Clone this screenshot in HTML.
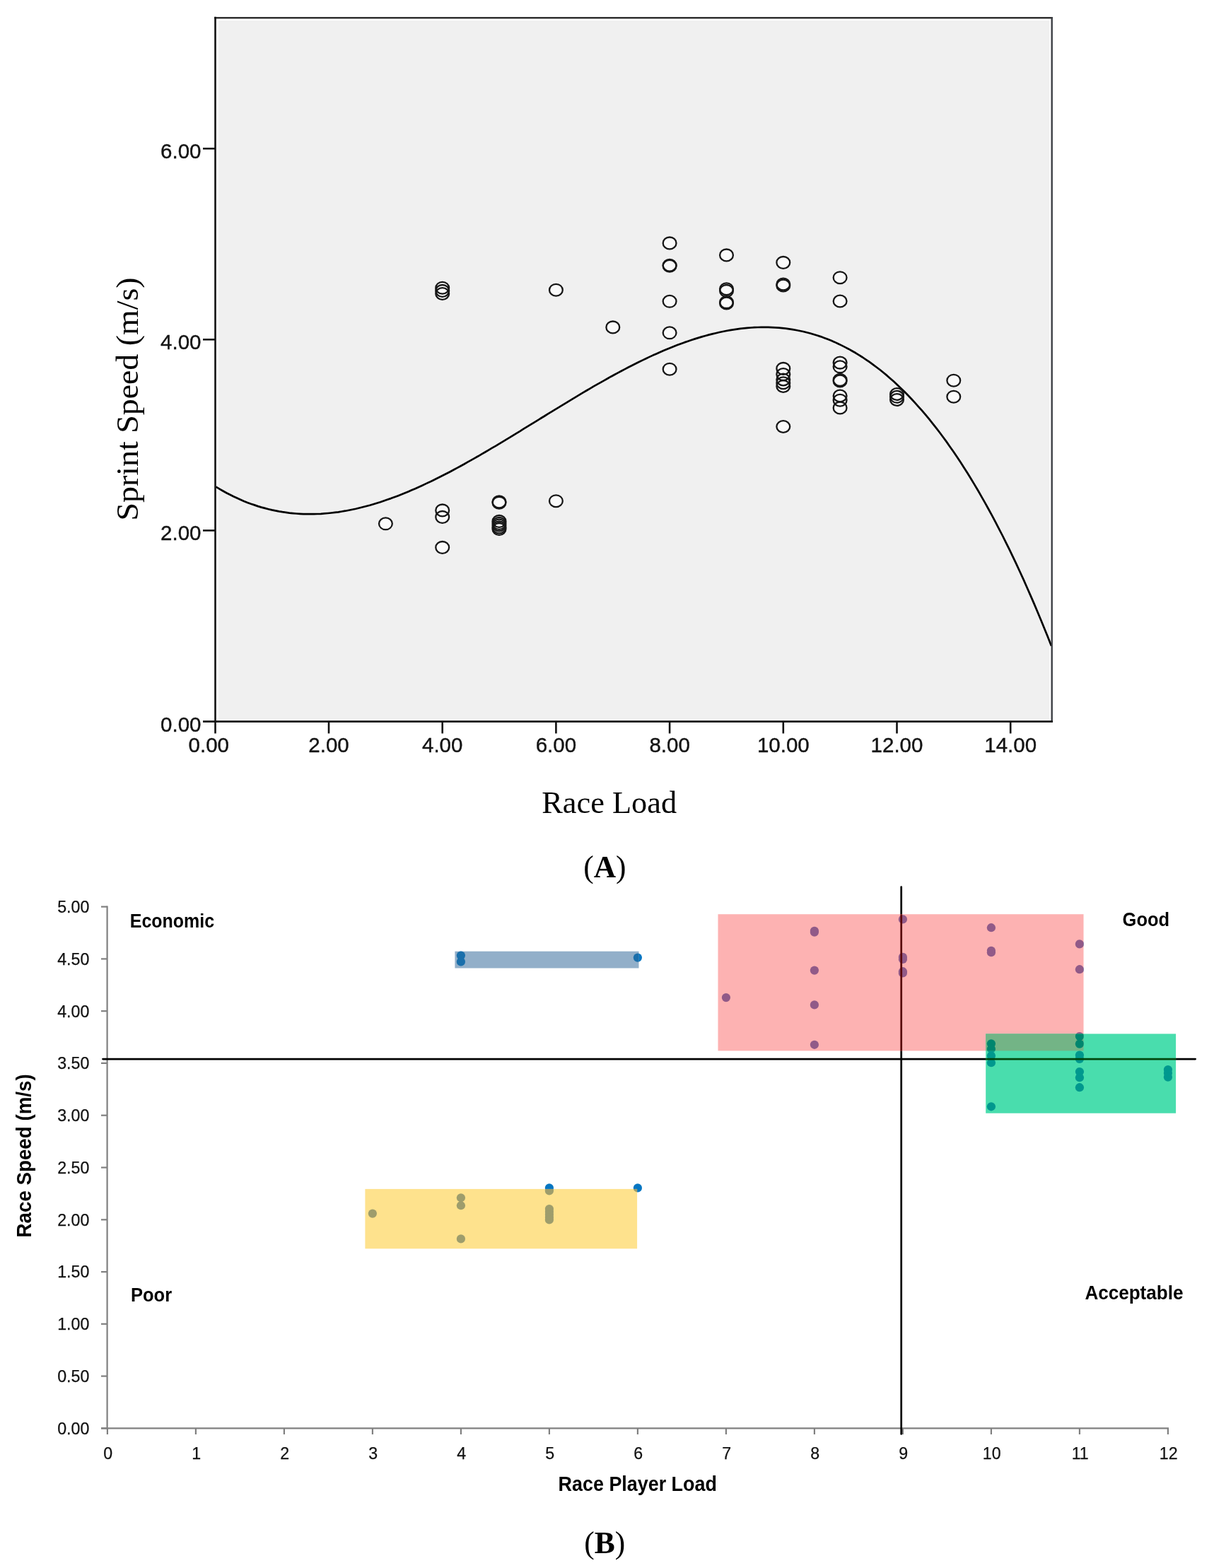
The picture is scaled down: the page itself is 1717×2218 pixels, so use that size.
<!DOCTYPE html>
<html><head><meta charset="utf-8"><title>Figure</title>
<style>
html,body{margin:0;padding:0;background:#fff;}
body{width:1717px;height:2218px;overflow:hidden;}
svg{display:block;}
</style></head>
<body>
<svg width="1717" height="2218" viewBox="0 0 1717 2218">
<rect width="1717" height="2218" fill="#fff"/>
<rect x="309" y="29" width="1175.5" height="988.5" fill="#f0f0f0"/>
<path d="M305.5,688.7 L310.4,691.6 L315.4,694.5 L320.3,697.2 L325.3,699.8 L330.2,702.3 L335.2,704.6 L340.1,706.8 L345.0,708.9 L350.0,710.9 L354.9,712.7 L359.9,714.4 L364.8,716.1 L369.8,717.6 L374.7,718.9 L379.7,720.2 L384.6,721.4 L389.5,722.4 L394.5,723.4 L399.4,724.2 L404.4,724.9 L409.3,725.6 L414.3,726.1 L419.2,726.5 L424.1,726.8 L429.1,727.1 L434.0,727.2 L439.0,727.2 L443.9,727.2 L448.9,727.0 L453.8,726.8 L458.7,726.4 L463.7,726.0 L468.6,725.5 L473.6,724.9 L478.5,724.3 L483.5,723.5 L488.4,722.7 L493.4,721.7 L498.3,720.7 L503.2,719.7 L508.2,718.5 L513.1,717.3 L518.1,716.0 L523.0,714.7 L528.0,713.2 L532.9,711.7 L537.8,710.2 L542.8,708.5 L547.7,706.8 L552.7,705.1 L557.6,703.3 L562.6,701.4 L567.5,699.5 L572.4,697.5 L577.4,695.4 L582.3,693.3 L587.3,691.2 L592.2,689.0 L597.2,686.7 L602.1,684.4 L607.1,682.1 L612.0,679.7 L616.9,677.3 L621.9,674.8 L626.8,672.3 L631.8,669.7 L636.7,667.2 L641.7,664.5 L646.6,661.9 L651.5,659.2 L656.5,656.5 L661.4,653.7 L666.4,650.9 L671.3,648.1 L676.3,645.3 L681.2,642.4 L686.2,639.5 L691.1,636.6 L696.0,633.7 L701.0,630.8 L705.9,627.8 L710.9,624.8 L715.8,621.9 L720.8,618.9 L725.7,615.8 L730.6,612.8 L735.6,609.8 L740.5,606.7 L745.5,603.7 L750.4,600.7 L755.4,597.6 L760.3,594.6 L765.2,591.5 L770.2,588.5 L775.1,585.4 L780.1,582.4 L785.0,579.3 L790.0,576.3 L794.9,573.3 L799.9,570.3 L804.8,567.3 L809.7,564.3 L814.7,561.3 L819.6,558.4 L824.6,555.4 L829.5,552.5 L834.5,549.6 L839.4,546.7 L844.3,543.9 L849.3,541.1 L854.2,538.3 L859.2,535.5 L864.1,532.7 L869.1,530.0 L874.0,527.4 L878.9,524.7 L883.9,522.1 L888.8,519.5 L893.8,517.0 L898.7,514.5 L903.7,512.0 L908.6,509.6 L913.6,507.2 L918.5,504.9 L923.4,502.6 L928.4,500.4 L933.3,498.2 L938.3,496.1 L943.2,494.0 L948.2,492.0 L953.1,490.0 L958.0,488.1 L963.0,486.2 L967.9,484.4 L972.9,482.7 L977.8,481.0 L982.8,479.4 L987.7,477.9 L992.6,476.4 L997.6,475.0 L1002.5,473.6 L1007.5,472.4 L1012.4,471.2 L1017.4,470.0 L1022.3,469.0 L1027.3,468.0 L1032.2,467.1 L1037.1,466.3 L1042.1,465.6 L1047.0,464.9 L1052.0,464.4 L1056.9,463.9 L1061.9,463.5 L1066.8,463.2 L1071.7,463.0 L1076.7,462.9 L1081.6,462.8 L1086.6,462.9 L1091.5,463.1 L1096.5,463.3 L1101.4,463.7 L1106.3,464.1 L1111.3,464.7 L1116.2,465.3 L1121.2,466.1 L1126.1,467.0 L1131.1,468.0 L1136.0,469.0 L1141.0,470.2 L1145.9,471.5 L1150.8,473.0 L1155.8,474.5 L1160.7,476.1 L1165.7,477.9 L1170.6,479.8 L1175.6,481.8 L1180.5,483.9 L1185.4,486.2 L1190.4,488.6 L1195.3,491.1 L1200.3,493.7 L1205.2,496.5 L1210.2,499.3 L1215.1,502.4 L1220.1,505.5 L1225.0,508.8 L1229.9,512.2 L1234.9,515.8 L1239.8,519.5 L1244.8,523.3 L1249.7,527.3 L1254.7,531.4 L1259.6,535.7 L1264.5,540.1 L1269.5,544.7 L1274.4,549.4 L1279.4,554.3 L1284.3,559.3 L1289.3,564.5 L1294.2,569.8 L1299.1,575.3 L1304.1,580.9 L1309.0,586.7 L1314.0,592.7 L1318.9,598.8 L1323.9,605.1 L1328.8,611.5 L1333.8,618.2 L1338.7,624.9 L1343.6,631.9 L1348.6,639.0 L1353.5,646.3 L1358.5,653.8 L1363.4,661.4 L1368.4,669.3 L1373.3,677.3 L1378.2,685.4 L1383.2,693.8 L1388.1,702.3 L1393.1,711.1 L1398.0,720.0 L1403.0,729.1 L1407.9,738.4 L1412.8,747.8 L1417.8,757.5 L1422.7,767.4 L1427.7,777.4 L1432.6,787.7 L1437.6,798.1 L1442.5,808.8 L1447.5,819.6 L1452.4,830.7 L1457.3,841.9 L1462.3,853.4 L1467.2,865.0 L1472.2,876.9 L1477.1,889.0 L1482.1,901.2 L1487.0,913.7" fill="none" stroke="#000" stroke-width="2.7" stroke-linejoin="round"/>
<g fill="#fafafa" stroke="none"><ellipse cx="545.4" cy="740.8" rx="9.4" ry="8.4"/><ellipse cx="625.7" cy="407.2" rx="9.4" ry="8.4"/><ellipse cx="625.7" cy="411.4" rx="9.4" ry="8.4"/><ellipse cx="625.7" cy="415.5" rx="9.4" ry="8.4"/><ellipse cx="625.7" cy="721.9" rx="9.4" ry="8.4"/><ellipse cx="625.7" cy="731.4" rx="9.4" ry="8.4"/><ellipse cx="625.7" cy="774.4" rx="9.4" ry="8.4"/><ellipse cx="706.0" cy="709.9" rx="9.4" ry="8.4"/><ellipse cx="706.0" cy="711.2" rx="9.4" ry="8.4"/><ellipse cx="706.0" cy="737.4" rx="9.4" ry="8.4"/><ellipse cx="706.0" cy="740.4" rx="9.4" ry="8.4"/><ellipse cx="706.0" cy="743.0" rx="9.4" ry="8.4"/><ellipse cx="706.0" cy="745.9" rx="9.4" ry="8.4"/><ellipse cx="706.0" cy="748.4" rx="9.4" ry="8.4"/><ellipse cx="786.4" cy="410.2" rx="9.4" ry="8.4"/><ellipse cx="786.4" cy="708.7" rx="9.4" ry="8.4"/><ellipse cx="866.8" cy="462.9" rx="9.4" ry="8.4"/><ellipse cx="947.1" cy="343.9" rx="9.4" ry="8.4"/><ellipse cx="947.1" cy="375.2" rx="9.4" ry="8.4"/><ellipse cx="947.1" cy="376.3" rx="9.4" ry="8.4"/><ellipse cx="947.1" cy="426.3" rx="9.4" ry="8.4"/><ellipse cx="947.1" cy="470.8" rx="9.4" ry="8.4"/><ellipse cx="947.1" cy="522.2" rx="9.4" ry="8.4"/><ellipse cx="1027.5" cy="360.9" rx="9.4" ry="8.4"/><ellipse cx="1027.5" cy="408.7" rx="9.4" ry="8.4"/><ellipse cx="1027.5" cy="411.4" rx="9.4" ry="8.4"/><ellipse cx="1027.5" cy="427.6" rx="9.4" ry="8.4"/><ellipse cx="1027.5" cy="429.0" rx="9.4" ry="8.4"/><ellipse cx="1107.8" cy="371.4" rx="9.4" ry="8.4"/><ellipse cx="1107.8" cy="402.0" rx="9.4" ry="8.4"/><ellipse cx="1107.8" cy="404.0" rx="9.4" ry="8.4"/><ellipse cx="1107.8" cy="521.4" rx="9.4" ry="8.4"/><ellipse cx="1107.8" cy="529.6" rx="9.4" ry="8.4"/><ellipse cx="1107.8" cy="537.0" rx="9.4" ry="8.4"/><ellipse cx="1107.8" cy="541.7" rx="9.4" ry="8.4"/><ellipse cx="1107.8" cy="546.5" rx="9.4" ry="8.4"/><ellipse cx="1107.8" cy="603.5" rx="9.4" ry="8.4"/><ellipse cx="1188.1" cy="392.7" rx="9.4" ry="8.4"/><ellipse cx="1188.1" cy="426.0" rx="9.4" ry="8.4"/><ellipse cx="1188.1" cy="513.1" rx="9.4" ry="8.4"/><ellipse cx="1188.1" cy="518.8" rx="9.4" ry="8.4"/><ellipse cx="1188.1" cy="537.4" rx="9.4" ry="8.4"/><ellipse cx="1188.1" cy="539.0" rx="9.4" ry="8.4"/><ellipse cx="1188.1" cy="560.0" rx="9.4" ry="8.4"/><ellipse cx="1188.1" cy="566.2" rx="9.4" ry="8.4"/><ellipse cx="1188.1" cy="576.9" rx="9.4" ry="8.4"/><ellipse cx="1268.5" cy="557.5" rx="9.4" ry="8.4"/><ellipse cx="1268.5" cy="561.3" rx="9.4" ry="8.4"/><ellipse cx="1268.5" cy="565.5" rx="9.4" ry="8.4"/><ellipse cx="1348.8" cy="538.2" rx="9.4" ry="8.4"/><ellipse cx="1348.8" cy="561.2" rx="9.4" ry="8.4"/></g>
<g fill="none" stroke="#161616" stroke-width="2.3"><ellipse cx="545.4" cy="740.8" rx="9.4" ry="8.4"/><ellipse cx="625.7" cy="407.2" rx="9.4" ry="8.4"/><ellipse cx="625.7" cy="411.4" rx="9.4" ry="8.4"/><ellipse cx="625.7" cy="415.5" rx="9.4" ry="8.4"/><ellipse cx="625.7" cy="721.9" rx="9.4" ry="8.4"/><ellipse cx="625.7" cy="731.4" rx="9.4" ry="8.4"/><ellipse cx="625.7" cy="774.4" rx="9.4" ry="8.4"/><ellipse cx="706.0" cy="709.9" rx="9.4" ry="8.4"/><ellipse cx="706.0" cy="711.2" rx="9.4" ry="8.4"/><ellipse cx="706.0" cy="737.4" rx="9.4" ry="8.4"/><ellipse cx="706.0" cy="740.4" rx="9.4" ry="8.4"/><ellipse cx="706.0" cy="743.0" rx="9.4" ry="8.4"/><ellipse cx="706.0" cy="745.9" rx="9.4" ry="8.4"/><ellipse cx="706.0" cy="748.4" rx="9.4" ry="8.4"/><ellipse cx="786.4" cy="410.2" rx="9.4" ry="8.4"/><ellipse cx="786.4" cy="708.7" rx="9.4" ry="8.4"/><ellipse cx="866.8" cy="462.9" rx="9.4" ry="8.4"/><ellipse cx="947.1" cy="343.9" rx="9.4" ry="8.4"/><ellipse cx="947.1" cy="375.2" rx="9.4" ry="8.4"/><ellipse cx="947.1" cy="376.3" rx="9.4" ry="8.4"/><ellipse cx="947.1" cy="426.3" rx="9.4" ry="8.4"/><ellipse cx="947.1" cy="470.8" rx="9.4" ry="8.4"/><ellipse cx="947.1" cy="522.2" rx="9.4" ry="8.4"/><ellipse cx="1027.5" cy="360.9" rx="9.4" ry="8.4"/><ellipse cx="1027.5" cy="408.7" rx="9.4" ry="8.4"/><ellipse cx="1027.5" cy="411.4" rx="9.4" ry="8.4"/><ellipse cx="1027.5" cy="427.6" rx="9.4" ry="8.4"/><ellipse cx="1027.5" cy="429.0" rx="9.4" ry="8.4"/><ellipse cx="1107.8" cy="371.4" rx="9.4" ry="8.4"/><ellipse cx="1107.8" cy="402.0" rx="9.4" ry="8.4"/><ellipse cx="1107.8" cy="404.0" rx="9.4" ry="8.4"/><ellipse cx="1107.8" cy="521.4" rx="9.4" ry="8.4"/><ellipse cx="1107.8" cy="529.6" rx="9.4" ry="8.4"/><ellipse cx="1107.8" cy="537.0" rx="9.4" ry="8.4"/><ellipse cx="1107.8" cy="541.7" rx="9.4" ry="8.4"/><ellipse cx="1107.8" cy="546.5" rx="9.4" ry="8.4"/><ellipse cx="1107.8" cy="603.5" rx="9.4" ry="8.4"/><ellipse cx="1188.1" cy="392.7" rx="9.4" ry="8.4"/><ellipse cx="1188.1" cy="426.0" rx="9.4" ry="8.4"/><ellipse cx="1188.1" cy="513.1" rx="9.4" ry="8.4"/><ellipse cx="1188.1" cy="518.8" rx="9.4" ry="8.4"/><ellipse cx="1188.1" cy="537.4" rx="9.4" ry="8.4"/><ellipse cx="1188.1" cy="539.0" rx="9.4" ry="8.4"/><ellipse cx="1188.1" cy="560.0" rx="9.4" ry="8.4"/><ellipse cx="1188.1" cy="566.2" rx="9.4" ry="8.4"/><ellipse cx="1188.1" cy="576.9" rx="9.4" ry="8.4"/><ellipse cx="1268.5" cy="557.5" rx="9.4" ry="8.4"/><ellipse cx="1268.5" cy="561.3" rx="9.4" ry="8.4"/><ellipse cx="1268.5" cy="565.5" rx="9.4" ry="8.4"/><ellipse cx="1348.8" cy="538.2" rx="9.4" ry="8.4"/><ellipse cx="1348.8" cy="561.2" rx="9.4" ry="8.4"/></g>
<g stroke-linecap="butt">
<line x1="303" y1="25.2" x2="1489" y2="25.2" stroke="#303030" stroke-width="2.4"/>
<line x1="1487.7" y1="24" x2="1487.7" y2="1021" stroke="#3c3f44" stroke-width="2.4"/>
<line x1="287" y1="1020.6" x2="1489" y2="1020.6" stroke="#111" stroke-width="2.6"/>
<line x1="304.5" y1="23.8" x2="304.5" y2="1037.5" stroke="#111" stroke-width="2.6"/>
<line x1="287" y1="750.4" x2="304.5" y2="750.4" stroke="#111" stroke-width="2.6"/>
<line x1="287" y1="480.3" x2="304.5" y2="480.3" stroke="#111" stroke-width="2.6"/>
<line x1="287" y1="210.2" x2="304.5" y2="210.2" stroke="#111" stroke-width="2.6"/>
<line x1="465.0" y1="1020.6" x2="465.0" y2="1037.5" stroke="#111" stroke-width="2.6"/>
<line x1="625.7" y1="1020.6" x2="625.7" y2="1037.5" stroke="#111" stroke-width="2.6"/>
<line x1="786.4" y1="1020.6" x2="786.4" y2="1037.5" stroke="#111" stroke-width="2.6"/>
<line x1="947.1" y1="1020.6" x2="947.1" y2="1037.5" stroke="#111" stroke-width="2.6"/>
<line x1="1107.8" y1="1020.6" x2="1107.8" y2="1037.5" stroke="#111" stroke-width="2.6"/>
<line x1="1268.5" y1="1020.6" x2="1268.5" y2="1037.5" stroke="#111" stroke-width="2.6"/>
<line x1="1429.2" y1="1020.6" x2="1429.2" y2="1037.5" stroke="#111" stroke-width="2.6"/>
</g>
<g font-family="Liberation Sans, Arial, sans-serif" font-size="29.5" fill="#141414" stroke="#141414" stroke-width="0.4">
<text x="284.5" y="1034.5" text-anchor="end">0.00</text>
<text x="284.5" y="764.4" text-anchor="end">2.00</text>
<text x="284.5" y="494.3" text-anchor="end">4.00</text>
<text x="284.5" y="224.2" text-anchor="end">6.00</text>
<text x="295.3" y="1063.6" text-anchor="middle">0.00</text>
<text x="465.0" y="1063.6" text-anchor="middle">2.00</text>
<text x="625.7" y="1063.6" text-anchor="middle">4.00</text>
<text x="786.4" y="1063.6" text-anchor="middle">6.00</text>
<text x="947.1" y="1063.6" text-anchor="middle">8.00</text>
<text x="1107.8" y="1063.6" text-anchor="middle">10.00</text>
<text x="1268.5" y="1063.6" text-anchor="middle">12.00</text>
<text x="1429.2" y="1063.6" text-anchor="middle">14.00</text>
</g>
<g font-family="Liberation Serif, Times New Roman, serif" fill="#000">
<text x="861.7" y="1149.6" text-anchor="middle" font-size="45" textLength="190.8" lengthAdjust="spacingAndGlyphs">Race Load</text>
<text transform="translate(195.2,564.4) rotate(-90)" x="0" y="0" text-anchor="middle" font-size="45" textLength="344" lengthAdjust="spacingAndGlyphs">Sprint Speed (m/s)</text>
<text x="855.4" y="1240.9" text-anchor="middle" font-size="43.5">(<tspan font-weight="bold">A</tspan>)</text>
<text x="855.3" y="2197" text-anchor="middle" font-size="43.5">(<tspan font-weight="bold">B</tspan>)</text>
</g>
<g stroke="#808080" stroke-width="2.2">
<line x1="151.6" y1="1281.5" x2="151.6" y2="2021.5"/>
<line x1="143" y1="2020.4" x2="1653" y2="2020.4"/>
<line x1="143" y1="2020.4" x2="151.6" y2="2020.4"/>
<line x1="143" y1="1946.6" x2="151.6" y2="1946.6"/>
<line x1="143" y1="1872.8" x2="151.6" y2="1872.8"/>
<line x1="143" y1="1799.1" x2="151.6" y2="1799.1"/>
<line x1="143" y1="1725.3" x2="151.6" y2="1725.3"/>
<line x1="143" y1="1651.5" x2="151.6" y2="1651.5"/>
<line x1="143" y1="1577.7" x2="151.6" y2="1577.7"/>
<line x1="143" y1="1503.9" x2="151.6" y2="1503.9"/>
<line x1="143" y1="1430.2" x2="151.6" y2="1430.2"/>
<line x1="143" y1="1356.4" x2="151.6" y2="1356.4"/>
<line x1="143" y1="1282.6" x2="151.6" y2="1282.6"/>
<line x1="151.9" y1="2020.4" x2="151.9" y2="2029"/>
<line x1="276.9" y1="2020.4" x2="276.9" y2="2029"/>
<line x1="401.9" y1="2020.4" x2="401.9" y2="2029"/>
<line x1="526.9" y1="2020.4" x2="526.9" y2="2029"/>
<line x1="651.9" y1="2020.4" x2="651.9" y2="2029"/>
<line x1="776.9" y1="2020.4" x2="776.9" y2="2029"/>
<line x1="901.9" y1="2020.4" x2="901.9" y2="2029"/>
<line x1="1026.9" y1="2020.4" x2="1026.9" y2="2029"/>
<line x1="1151.9" y1="2020.4" x2="1151.9" y2="2029"/>
<line x1="1276.9" y1="2020.4" x2="1276.9" y2="2029"/>
<line x1="1401.9" y1="2020.4" x2="1401.9" y2="2029"/>
<line x1="1526.9" y1="2020.4" x2="1526.9" y2="2029"/>
<line x1="1651.9" y1="2020.4" x2="1651.9" y2="2029"/>
</g>
<defs><clipPath id="c_blue"><rect x="643.4" y="1345.7" width="260.1" height="23.8"/></clipPath><clipPath id="c_yellow"><rect x="516.4" y="1681.9" width="384.7" height="84.4"/></clipPath><clipPath id="c_pink"><rect x="1015.5" y="1293.2" width="517.0" height="193.2"/></clipPath><clipPath id="c_green"><rect x="1394.2" y="1462.4" width="268.9" height="112.3"/></clipPath><clipPath id="c_overlap"><rect x="1394.2" y="1462.4" width="138.3" height="24.0"/></clipPath></defs>
<g fill="#0576c2"><circle cx="526.9" cy="1716.6" r="6.1"/><circle cx="651.9" cy="1351.6" r="6.1"/><circle cx="651.9" cy="1360.4" r="6.1"/><circle cx="651.9" cy="1694.3" r="6.1"/><circle cx="651.9" cy="1705.2" r="6.1"/><circle cx="651.9" cy="1752.4" r="6.1"/><circle cx="776.9" cy="1680.4" r="6.1"/><circle cx="776.9" cy="1684.4" r="6.1"/><circle cx="776.9" cy="1710.0" r="6.1"/><circle cx="776.9" cy="1714.0" r="6.1"/><circle cx="776.9" cy="1718.0" r="6.1"/><circle cx="776.9" cy="1722.0" r="6.1"/><circle cx="776.9" cy="1725.5" r="6.1"/><circle cx="901.9" cy="1354.6" r="6.1"/><circle cx="901.9" cy="1680.4" r="6.1"/><circle cx="1026.9" cy="1411.1" r="6.1"/><circle cx="1151.9" cy="1316.8" r="6.1"/><circle cx="1151.9" cy="1318.6" r="6.1"/><circle cx="1151.9" cy="1372.6" r="6.1"/><circle cx="1151.9" cy="1421.4" r="6.1"/><circle cx="1151.9" cy="1477.8" r="6.1"/><circle cx="1276.9" cy="1300.4" r="6.1"/><circle cx="1276.9" cy="1353.9" r="6.1"/><circle cx="1276.9" cy="1356.9" r="6.1"/><circle cx="1276.9" cy="1374.2" r="6.1"/><circle cx="1276.9" cy="1376.4" r="6.1"/><circle cx="1401.9" cy="1312.2" r="6.1"/><circle cx="1401.9" cy="1344.8" r="6.1"/><circle cx="1401.9" cy="1347.2" r="6.1"/><circle cx="1401.9" cy="1476.3" r="6.1"/><circle cx="1401.9" cy="1483.7" r="6.1"/><circle cx="1401.9" cy="1493.5" r="6.1"/><circle cx="1401.9" cy="1503.2" r="6.1"/><circle cx="1401.9" cy="1565.3" r="6.1"/><circle cx="1526.9" cy="1335.4" r="6.1"/><circle cx="1526.9" cy="1371.2" r="6.1"/><circle cx="1526.9" cy="1466.0" r="6.1"/><circle cx="1526.9" cy="1476.6" r="6.1"/><circle cx="1526.9" cy="1492.6" r="6.1"/><circle cx="1526.9" cy="1497.9" r="6.1"/><circle cx="1526.9" cy="1516.0" r="6.1"/><circle cx="1526.9" cy="1524.2" r="6.1"/><circle cx="1526.9" cy="1538.2" r="6.1"/><circle cx="1651.9" cy="1513.0" r="6.1"/><circle cx="1651.9" cy="1518.0" r="6.1"/><circle cx="1651.9" cy="1523.6" r="6.1"/></g>
<g stroke="#000"><line x1="145.5" y1="1498.1" x2="1690.6" y2="1498.1" stroke-width="2.7" stroke-linecap="round"/><line x1="1274.7" y1="1254.7" x2="1274.7" y2="2028.5" stroke-width="2.7" stroke-linecap="round"/></g>
<rect x="643.4" y="1345.7" width="260.1" height="23.8" fill="#92afc9"/>
<g clip-path="url(#c_blue)"><g fill="#1a6fab"><circle cx="526.9" cy="1716.6" r="6.1"/><circle cx="651.9" cy="1351.6" r="6.1"/><circle cx="651.9" cy="1360.4" r="6.1"/><circle cx="651.9" cy="1694.3" r="6.1"/><circle cx="651.9" cy="1705.2" r="6.1"/><circle cx="651.9" cy="1752.4" r="6.1"/><circle cx="776.9" cy="1680.4" r="6.1"/><circle cx="776.9" cy="1684.4" r="6.1"/><circle cx="776.9" cy="1710.0" r="6.1"/><circle cx="776.9" cy="1714.0" r="6.1"/><circle cx="776.9" cy="1718.0" r="6.1"/><circle cx="776.9" cy="1722.0" r="6.1"/><circle cx="776.9" cy="1725.5" r="6.1"/><circle cx="901.9" cy="1354.6" r="6.1"/><circle cx="901.9" cy="1680.4" r="6.1"/><circle cx="1026.9" cy="1411.1" r="6.1"/><circle cx="1151.9" cy="1316.8" r="6.1"/><circle cx="1151.9" cy="1318.6" r="6.1"/><circle cx="1151.9" cy="1372.6" r="6.1"/><circle cx="1151.9" cy="1421.4" r="6.1"/><circle cx="1151.9" cy="1477.8" r="6.1"/><circle cx="1276.9" cy="1300.4" r="6.1"/><circle cx="1276.9" cy="1353.9" r="6.1"/><circle cx="1276.9" cy="1356.9" r="6.1"/><circle cx="1276.9" cy="1374.2" r="6.1"/><circle cx="1276.9" cy="1376.4" r="6.1"/><circle cx="1401.9" cy="1312.2" r="6.1"/><circle cx="1401.9" cy="1344.8" r="6.1"/><circle cx="1401.9" cy="1347.2" r="6.1"/><circle cx="1401.9" cy="1476.3" r="6.1"/><circle cx="1401.9" cy="1483.7" r="6.1"/><circle cx="1401.9" cy="1493.5" r="6.1"/><circle cx="1401.9" cy="1503.2" r="6.1"/><circle cx="1401.9" cy="1565.3" r="6.1"/><circle cx="1526.9" cy="1335.4" r="6.1"/><circle cx="1526.9" cy="1371.2" r="6.1"/><circle cx="1526.9" cy="1466.0" r="6.1"/><circle cx="1526.9" cy="1476.6" r="6.1"/><circle cx="1526.9" cy="1492.6" r="6.1"/><circle cx="1526.9" cy="1497.9" r="6.1"/><circle cx="1526.9" cy="1516.0" r="6.1"/><circle cx="1526.9" cy="1524.2" r="6.1"/><circle cx="1526.9" cy="1538.2" r="6.1"/><circle cx="1651.9" cy="1513.0" r="6.1"/><circle cx="1651.9" cy="1518.0" r="6.1"/><circle cx="1651.9" cy="1523.6" r="6.1"/></g><g stroke="#10324f"><line x1="145.5" y1="1498.1" x2="1690.6" y2="1498.1" stroke-width="2.7" stroke-linecap="round"/><line x1="1274.7" y1="1254.7" x2="1274.7" y2="2028.5" stroke-width="2.7" stroke-linecap="round"/></g></g>
<rect x="516.4" y="1681.9" width="384.7" height="84.4" fill="#fee28d"/>
<g clip-path="url(#c_yellow)"><g fill="#9e9d6c"><circle cx="526.9" cy="1716.6" r="6.1"/><circle cx="651.9" cy="1351.6" r="6.1"/><circle cx="651.9" cy="1360.4" r="6.1"/><circle cx="651.9" cy="1694.3" r="6.1"/><circle cx="651.9" cy="1705.2" r="6.1"/><circle cx="651.9" cy="1752.4" r="6.1"/><circle cx="776.9" cy="1680.4" r="6.1"/><circle cx="776.9" cy="1684.4" r="6.1"/><circle cx="776.9" cy="1710.0" r="6.1"/><circle cx="776.9" cy="1714.0" r="6.1"/><circle cx="776.9" cy="1718.0" r="6.1"/><circle cx="776.9" cy="1722.0" r="6.1"/><circle cx="776.9" cy="1725.5" r="6.1"/><circle cx="901.9" cy="1354.6" r="6.1"/><circle cx="901.9" cy="1680.4" r="6.1"/><circle cx="1026.9" cy="1411.1" r="6.1"/><circle cx="1151.9" cy="1316.8" r="6.1"/><circle cx="1151.9" cy="1318.6" r="6.1"/><circle cx="1151.9" cy="1372.6" r="6.1"/><circle cx="1151.9" cy="1421.4" r="6.1"/><circle cx="1151.9" cy="1477.8" r="6.1"/><circle cx="1276.9" cy="1300.4" r="6.1"/><circle cx="1276.9" cy="1353.9" r="6.1"/><circle cx="1276.9" cy="1356.9" r="6.1"/><circle cx="1276.9" cy="1374.2" r="6.1"/><circle cx="1276.9" cy="1376.4" r="6.1"/><circle cx="1401.9" cy="1312.2" r="6.1"/><circle cx="1401.9" cy="1344.8" r="6.1"/><circle cx="1401.9" cy="1347.2" r="6.1"/><circle cx="1401.9" cy="1476.3" r="6.1"/><circle cx="1401.9" cy="1483.7" r="6.1"/><circle cx="1401.9" cy="1493.5" r="6.1"/><circle cx="1401.9" cy="1503.2" r="6.1"/><circle cx="1401.9" cy="1565.3" r="6.1"/><circle cx="1526.9" cy="1335.4" r="6.1"/><circle cx="1526.9" cy="1371.2" r="6.1"/><circle cx="1526.9" cy="1466.0" r="6.1"/><circle cx="1526.9" cy="1476.6" r="6.1"/><circle cx="1526.9" cy="1492.6" r="6.1"/><circle cx="1526.9" cy="1497.9" r="6.1"/><circle cx="1526.9" cy="1516.0" r="6.1"/><circle cx="1526.9" cy="1524.2" r="6.1"/><circle cx="1526.9" cy="1538.2" r="6.1"/><circle cx="1651.9" cy="1513.0" r="6.1"/><circle cx="1651.9" cy="1518.0" r="6.1"/><circle cx="1651.9" cy="1523.6" r="6.1"/></g><g stroke="#4a4020"><line x1="145.5" y1="1498.1" x2="1690.6" y2="1498.1" stroke-width="2.7" stroke-linecap="round"/><line x1="1274.7" y1="1254.7" x2="1274.7" y2="2028.5" stroke-width="2.7" stroke-linecap="round"/></g></g>
<rect x="1015.5" y="1293.2" width="517.0" height="193.2" fill="#fdb2b2"/>
<g clip-path="url(#c_pink)"><g fill="#915a88"><circle cx="526.9" cy="1716.6" r="6.1"/><circle cx="651.9" cy="1351.6" r="6.1"/><circle cx="651.9" cy="1360.4" r="6.1"/><circle cx="651.9" cy="1694.3" r="6.1"/><circle cx="651.9" cy="1705.2" r="6.1"/><circle cx="651.9" cy="1752.4" r="6.1"/><circle cx="776.9" cy="1680.4" r="6.1"/><circle cx="776.9" cy="1684.4" r="6.1"/><circle cx="776.9" cy="1710.0" r="6.1"/><circle cx="776.9" cy="1714.0" r="6.1"/><circle cx="776.9" cy="1718.0" r="6.1"/><circle cx="776.9" cy="1722.0" r="6.1"/><circle cx="776.9" cy="1725.5" r="6.1"/><circle cx="901.9" cy="1354.6" r="6.1"/><circle cx="901.9" cy="1680.4" r="6.1"/><circle cx="1026.9" cy="1411.1" r="6.1"/><circle cx="1151.9" cy="1316.8" r="6.1"/><circle cx="1151.9" cy="1318.6" r="6.1"/><circle cx="1151.9" cy="1372.6" r="6.1"/><circle cx="1151.9" cy="1421.4" r="6.1"/><circle cx="1151.9" cy="1477.8" r="6.1"/><circle cx="1276.9" cy="1300.4" r="6.1"/><circle cx="1276.9" cy="1353.9" r="6.1"/><circle cx="1276.9" cy="1356.9" r="6.1"/><circle cx="1276.9" cy="1374.2" r="6.1"/><circle cx="1276.9" cy="1376.4" r="6.1"/><circle cx="1401.9" cy="1312.2" r="6.1"/><circle cx="1401.9" cy="1344.8" r="6.1"/><circle cx="1401.9" cy="1347.2" r="6.1"/><circle cx="1401.9" cy="1476.3" r="6.1"/><circle cx="1401.9" cy="1483.7" r="6.1"/><circle cx="1401.9" cy="1493.5" r="6.1"/><circle cx="1401.9" cy="1503.2" r="6.1"/><circle cx="1401.9" cy="1565.3" r="6.1"/><circle cx="1526.9" cy="1335.4" r="6.1"/><circle cx="1526.9" cy="1371.2" r="6.1"/><circle cx="1526.9" cy="1466.0" r="6.1"/><circle cx="1526.9" cy="1476.6" r="6.1"/><circle cx="1526.9" cy="1492.6" r="6.1"/><circle cx="1526.9" cy="1497.9" r="6.1"/><circle cx="1526.9" cy="1516.0" r="6.1"/><circle cx="1526.9" cy="1524.2" r="6.1"/><circle cx="1526.9" cy="1538.2" r="6.1"/><circle cx="1651.9" cy="1513.0" r="6.1"/><circle cx="1651.9" cy="1518.0" r="6.1"/><circle cx="1651.9" cy="1523.6" r="6.1"/></g><g stroke="#5a0606"><line x1="145.5" y1="1498.1" x2="1690.6" y2="1498.1" stroke-width="2.7" stroke-linecap="round"/><line x1="1274.7" y1="1254.7" x2="1274.7" y2="2028.5" stroke-width="2.7" stroke-linecap="round"/></g></g>
<rect x="1394.2" y="1462.4" width="268.9" height="112.3" fill="#49ddad"/>
<g clip-path="url(#c_green)"><g fill="#00988e"><circle cx="526.9" cy="1716.6" r="6.1"/><circle cx="651.9" cy="1351.6" r="6.1"/><circle cx="651.9" cy="1360.4" r="6.1"/><circle cx="651.9" cy="1694.3" r="6.1"/><circle cx="651.9" cy="1705.2" r="6.1"/><circle cx="651.9" cy="1752.4" r="6.1"/><circle cx="776.9" cy="1680.4" r="6.1"/><circle cx="776.9" cy="1684.4" r="6.1"/><circle cx="776.9" cy="1710.0" r="6.1"/><circle cx="776.9" cy="1714.0" r="6.1"/><circle cx="776.9" cy="1718.0" r="6.1"/><circle cx="776.9" cy="1722.0" r="6.1"/><circle cx="776.9" cy="1725.5" r="6.1"/><circle cx="901.9" cy="1354.6" r="6.1"/><circle cx="901.9" cy="1680.4" r="6.1"/><circle cx="1026.9" cy="1411.1" r="6.1"/><circle cx="1151.9" cy="1316.8" r="6.1"/><circle cx="1151.9" cy="1318.6" r="6.1"/><circle cx="1151.9" cy="1372.6" r="6.1"/><circle cx="1151.9" cy="1421.4" r="6.1"/><circle cx="1151.9" cy="1477.8" r="6.1"/><circle cx="1276.9" cy="1300.4" r="6.1"/><circle cx="1276.9" cy="1353.9" r="6.1"/><circle cx="1276.9" cy="1356.9" r="6.1"/><circle cx="1276.9" cy="1374.2" r="6.1"/><circle cx="1276.9" cy="1376.4" r="6.1"/><circle cx="1401.9" cy="1312.2" r="6.1"/><circle cx="1401.9" cy="1344.8" r="6.1"/><circle cx="1401.9" cy="1347.2" r="6.1"/><circle cx="1401.9" cy="1476.3" r="6.1"/><circle cx="1401.9" cy="1483.7" r="6.1"/><circle cx="1401.9" cy="1493.5" r="6.1"/><circle cx="1401.9" cy="1503.2" r="6.1"/><circle cx="1401.9" cy="1565.3" r="6.1"/><circle cx="1526.9" cy="1335.4" r="6.1"/><circle cx="1526.9" cy="1371.2" r="6.1"/><circle cx="1526.9" cy="1466.0" r="6.1"/><circle cx="1526.9" cy="1476.6" r="6.1"/><circle cx="1526.9" cy="1492.6" r="6.1"/><circle cx="1526.9" cy="1497.9" r="6.1"/><circle cx="1526.9" cy="1516.0" r="6.1"/><circle cx="1526.9" cy="1524.2" r="6.1"/><circle cx="1526.9" cy="1538.2" r="6.1"/><circle cx="1651.9" cy="1513.0" r="6.1"/><circle cx="1651.9" cy="1518.0" r="6.1"/><circle cx="1651.9" cy="1523.6" r="6.1"/></g><g stroke="#00460c"><line x1="145.5" y1="1498.1" x2="1690.6" y2="1498.1" stroke-width="2.7" stroke-linecap="round"/><line x1="1274.7" y1="1254.7" x2="1274.7" y2="2028.5" stroke-width="2.7" stroke-linecap="round"/></g></g>
<rect x="1394.2" y="1462.4" width="138.3" height="24.0" fill="#73b486"/>
<g clip-path="url(#c_overlap)"><g fill="#00866e"><circle cx="526.9" cy="1716.6" r="6.1"/><circle cx="651.9" cy="1351.6" r="6.1"/><circle cx="651.9" cy="1360.4" r="6.1"/><circle cx="651.9" cy="1694.3" r="6.1"/><circle cx="651.9" cy="1705.2" r="6.1"/><circle cx="651.9" cy="1752.4" r="6.1"/><circle cx="776.9" cy="1680.4" r="6.1"/><circle cx="776.9" cy="1684.4" r="6.1"/><circle cx="776.9" cy="1710.0" r="6.1"/><circle cx="776.9" cy="1714.0" r="6.1"/><circle cx="776.9" cy="1718.0" r="6.1"/><circle cx="776.9" cy="1722.0" r="6.1"/><circle cx="776.9" cy="1725.5" r="6.1"/><circle cx="901.9" cy="1354.6" r="6.1"/><circle cx="901.9" cy="1680.4" r="6.1"/><circle cx="1026.9" cy="1411.1" r="6.1"/><circle cx="1151.9" cy="1316.8" r="6.1"/><circle cx="1151.9" cy="1318.6" r="6.1"/><circle cx="1151.9" cy="1372.6" r="6.1"/><circle cx="1151.9" cy="1421.4" r="6.1"/><circle cx="1151.9" cy="1477.8" r="6.1"/><circle cx="1276.9" cy="1300.4" r="6.1"/><circle cx="1276.9" cy="1353.9" r="6.1"/><circle cx="1276.9" cy="1356.9" r="6.1"/><circle cx="1276.9" cy="1374.2" r="6.1"/><circle cx="1276.9" cy="1376.4" r="6.1"/><circle cx="1401.9" cy="1312.2" r="6.1"/><circle cx="1401.9" cy="1344.8" r="6.1"/><circle cx="1401.9" cy="1347.2" r="6.1"/><circle cx="1401.9" cy="1476.3" r="6.1"/><circle cx="1401.9" cy="1483.7" r="6.1"/><circle cx="1401.9" cy="1493.5" r="6.1"/><circle cx="1401.9" cy="1503.2" r="6.1"/><circle cx="1401.9" cy="1565.3" r="6.1"/><circle cx="1526.9" cy="1335.4" r="6.1"/><circle cx="1526.9" cy="1371.2" r="6.1"/><circle cx="1526.9" cy="1466.0" r="6.1"/><circle cx="1526.9" cy="1476.6" r="6.1"/><circle cx="1526.9" cy="1492.6" r="6.1"/><circle cx="1526.9" cy="1497.9" r="6.1"/><circle cx="1526.9" cy="1516.0" r="6.1"/><circle cx="1526.9" cy="1524.2" r="6.1"/><circle cx="1526.9" cy="1538.2" r="6.1"/><circle cx="1651.9" cy="1513.0" r="6.1"/><circle cx="1651.9" cy="1518.0" r="6.1"/><circle cx="1651.9" cy="1523.6" r="6.1"/></g><g stroke="#0a3a1a"><line x1="145.5" y1="1498.1" x2="1690.6" y2="1498.1" stroke-width="2.7" stroke-linecap="round"/><line x1="1274.7" y1="1254.7" x2="1274.7" y2="2028.5" stroke-width="2.7" stroke-linecap="round"/></g></g>
<g font-family="Liberation Sans, Arial, sans-serif" font-size="23.2" fill="#111" stroke="#111" stroke-width="0.25">
<text x="126.3" y="2028.7" text-anchor="end">0.00</text>
<text x="126.3" y="1954.9" text-anchor="end">0.50</text>
<text x="126.3" y="1881.1" text-anchor="end">1.00</text>
<text x="126.3" y="1807.4" text-anchor="end">1.50</text>
<text x="126.3" y="1733.6" text-anchor="end">2.00</text>
<text x="126.3" y="1659.8" text-anchor="end">2.50</text>
<text x="126.3" y="1586.0" text-anchor="end">3.00</text>
<text x="126.3" y="1512.2" text-anchor="end">3.50</text>
<text x="126.3" y="1438.5" text-anchor="end">4.00</text>
<text x="126.3" y="1364.7" text-anchor="end">4.50</text>
<text x="126.3" y="1290.9" text-anchor="end">5.00</text>
<text x="152.7" y="2063.6" text-anchor="middle">0</text>
<text x="277.7" y="2063.6" text-anchor="middle">1</text>
<text x="402.7" y="2063.6" text-anchor="middle">2</text>
<text x="527.7" y="2063.6" text-anchor="middle">3</text>
<text x="652.7" y="2063.6" text-anchor="middle">4</text>
<text x="777.7" y="2063.6" text-anchor="middle">5</text>
<text x="902.7" y="2063.6" text-anchor="middle">6</text>
<text x="1027.7" y="2063.6" text-anchor="middle">7</text>
<text x="1152.7" y="2063.6" text-anchor="middle">8</text>
<text x="1277.7" y="2063.6" text-anchor="middle">9</text>
<text x="1402.7" y="2063.6" text-anchor="middle">10</text>
<text x="1527.7" y="2063.6" text-anchor="middle">11</text>
<text x="1652.7" y="2063.6" text-anchor="middle">12</text>
</g>
<g font-family="Liberation Sans, Arial, sans-serif" font-weight="bold" fill="#000">
<text x="183.8" y="1312" font-size="27.5" textLength="119.3" lengthAdjust="spacingAndGlyphs">Economic</text>
<text x="1587.6" y="1309.5" font-size="27.5" textLength="66.4" lengthAdjust="spacingAndGlyphs">Good</text>
<text x="184.9" y="1840.8" font-size="27.5" textLength="58.2" lengthAdjust="spacingAndGlyphs">Poor</text>
<text x="1534.4" y="1838.1" font-size="27.5" textLength="139" lengthAdjust="spacingAndGlyphs">Acceptable</text>
<text x="789.6" y="2108.9" font-size="29.5" textLength="224.3" lengthAdjust="spacingAndGlyphs">Race Player Load</text>
<text transform="translate(44.1,1634.9) rotate(-90)" x="0" y="0" text-anchor="middle" font-size="29.5" textLength="231.2" lengthAdjust="spacingAndGlyphs">Race Speed (m/s)</text>
</g>
</svg>
</body></html>
